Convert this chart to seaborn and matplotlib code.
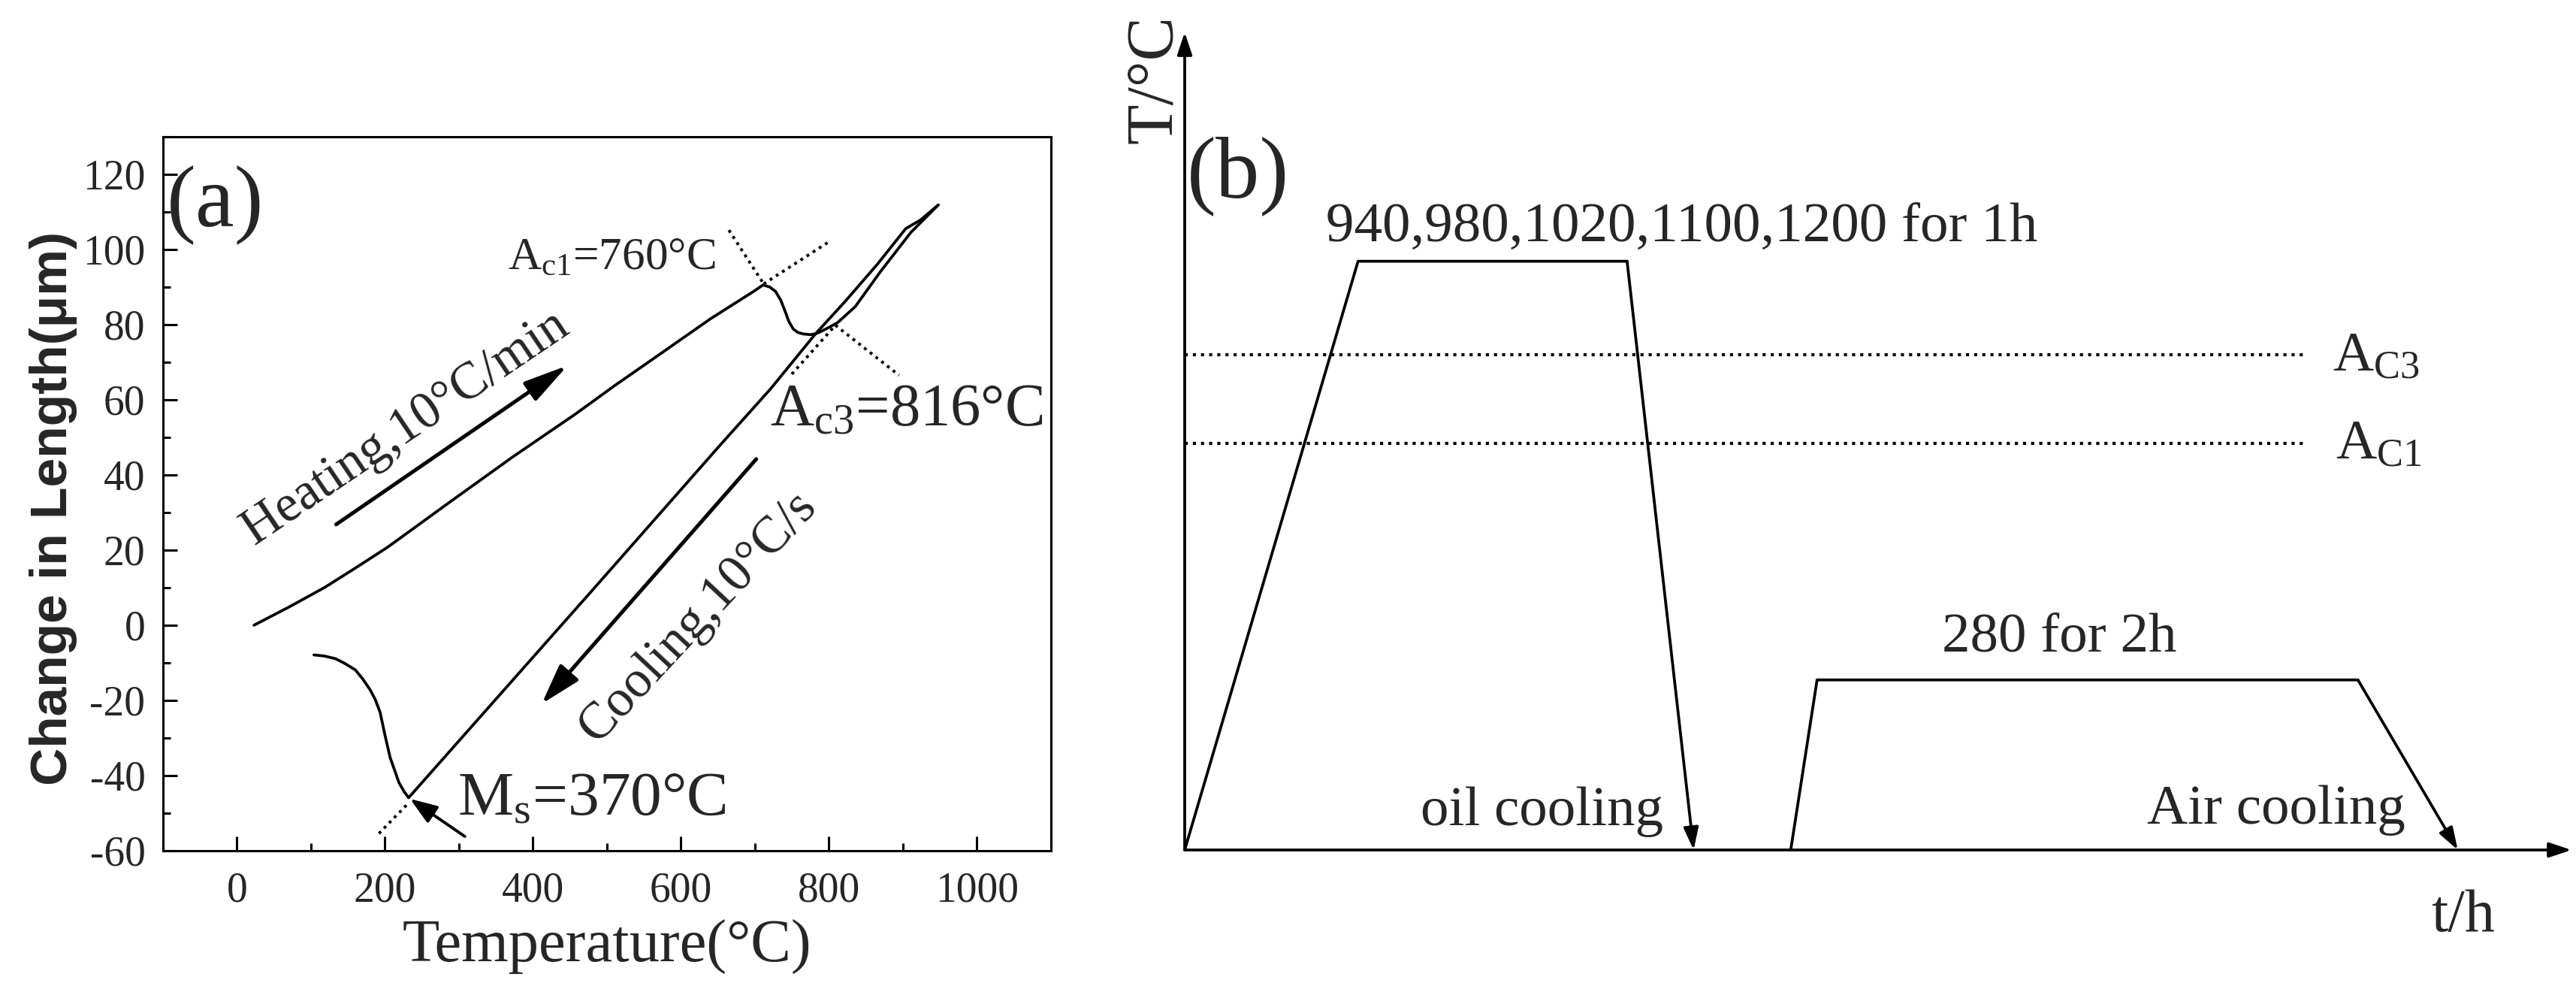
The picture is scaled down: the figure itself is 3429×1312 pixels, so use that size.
import matplotlib
matplotlib.use("Agg")
import matplotlib.pyplot as plt
import seaborn as sns
from matplotlib.ticker import MultipleLocator

# ---------------- data: panel (a) dilatometric curve ----------------
heat_temp = [23, 70, 119, 160, 204, 288, 373, 457, 511, 560, 600, 640, 680, 700, 711, 720, 728,
             735, 741, 746, 752, 758, 765, 775, 782, 789, 800, 812, 836, 870, 911, 948]
heat_len = [0, 4.8, 10.1, 15.2, 20.8, 32.8, 44.8, 56.1, 63.8, 70.5, 76, 81.5, 86.5, 89.0, 90.5, 90.0, 88.8,
            86.5, 83.5, 80.8, 78.8, 77.9, 77.5, 77.3, 77.5, 78.1, 79.2, 80.5, 84.8, 94.1, 104.5, 111.8]

cool_temp = [948, 924, 904, 866, 822, 782, 721, 654, 484, 232, 226, 219, 207, 200, 193.5, 187,
             180, 170, 160, 146, 133, 118, 104]
cool_len = [111.8, 107.8, 105.5, 96.1, 86.1, 77.5, 62.8, 48.1, 10.1, -45.9, -44.3, -41.9, -35.2,
            -29.2, -23.2, -19.8, -17.2, -14.3, -11.9, -10.2, -8.9, -8.2, -7.9]

# tangent (dotted) construction lines: [T0, T1], [L0, L1]
ac1_tan1_t, ac1_tan1_l = [665, 712], [105.1, 90.8]
ac1_tan2_t, ac1_tan2_l = [712, 801], [90.8, 102.1]
ac3_tan1_t, ac3_tan1_l = [750, 809], [66.8, 79.8]
ac3_tan2_t, ac3_tan2_l = [809, 895], [79.8, 66.5]
ms_tan_t, ms_tan_l = [229, 188], [-47.9, -56.2]

# arrows (tail -> tip)
heat_arrow = [(134, 26.8), (447, 69.1)]
cool_arrow = [(702, 44.2), (412, -20.9)]
ms_arrow = [(308, -56.2), (234, -46.2)]

x_ticks = [0, 200, 400, 600, 800, 1000]
y_ticks = [-60, -40, -20, 0, 20, 40, 60, 80, 100, 120]

# ---------------- data: panel (b) heat-treatment schedule (schematic units) ----------------
quench_t = [0, 12.5, 31.9, 36.7]
quench_T = [0, 72.0, 72.0, 0]
temper_t = [43.7, 45.6, 84.6, 91.8]
temper_T = [0, 20.8, 20.8, 0]
ac3_level, ac1_level, crit_end = 60.6, 49.7, 80.8

# ---------------- style ----------------
sns.set_theme(style="white")
plt.rcParams["font.family"] = ["Liberation Serif", "DejaVu Serif"]
plt.rcParams["mathtext.fontset"] = "custom"
plt.rcParams["mathtext.rm"] = "Liberation Serif"
plt.rcParams["mathtext.it"] = "Liberation Serif:italic"
plt.rcParams["mathtext.bf"] = "Liberation Serif:bold"
plt.rcParams["axes.unicode_minus"] = False

W, H = 3430, 1312
fig = plt.figure(figsize=(W / 100, H / 100), dpi=100)
fig.patch.set_facecolor("white")

# ================= panel (a) =================
axa = fig.add_axes([217 / W, 180 / H, 1181.6 / W, 950.3 / H])
axa.set_facecolor("white")
lw_curve = 2.7
sns.lineplot(x=heat_temp, y=heat_len, sort=False, estimator=None, ax=axa,
             color="black", lw=lw_curve)
sns.lineplot(x=cool_temp, y=cool_len, sort=False, estimator=None, ax=axa,
             color="black", lw=lw_curve)
dot = dict(color="black", lw=2.8, linestyle=(0, (1, 1.5)))
for tt, ll in [(ac1_tan1_t, ac1_tan1_l), (ac1_tan2_t, ac1_tan2_l),
               (ac3_tan1_t, ac3_tan1_l), (ac3_tan2_t, ac3_tan2_l), (ms_tan_t, ms_tan_l)]:
    axa.plot(tt, ll, **dot)

def arrow(ax, tail, tip, lw, hl, hw, ms=10):
    ax.annotate("", xy=tip, xytext=tail,
                arrowprops=dict(arrowstyle=f"-|>,head_length={hl},head_width={hw}",
                                color="black", lw=lw, shrinkA=0, shrinkB=0,
                                mutation_scale=ms))

arrow(axa, heat_arrow[0], heat_arrow[1], 3.6, 3.6, 0.9)
arrow(axa, cool_arrow[0], cool_arrow[1], 3.6, 3.3, 1.0)
arrow(axa, ms_arrow[0], ms_arrow[1], 2.8, 2.2, 0.8)

axa.set_xlim(-100, 1100)
axa.set_ylim(-60, 130)
axa.set_xticks(x_ticks)
axa.set_yticks(y_ticks)
axa.xaxis.set_minor_locator(MultipleLocator(100))
axa.yaxis.set_minor_locator(MultipleLocator(10))
axa.tick_params(axis="both", which="major", direction="in", length=13.7, width=2.2,
                labelsize=40, top=False, right=False, bottom=True, left=True, color="black")
axa.tick_params(axis="both", which="minor", direction="in", length=7.2, width=2.2,
                top=False, right=False, bottom=True, left=True, color="black")
axa.tick_params(axis="x", which="major", pad=20)
axa.tick_params(axis="y", which="major", pad=17)
for s in axa.spines.values():
    s.set_color("black")
    s.set_linewidth(2.2)

axa.set_xlabel("Temperature(°C)", fontsize=58, labelpad=8.5)
axa.set_ylabel("Change in Length(μm)", fontsize=50, fontfamily="Liberation Sans",
               fontweight="bold")
axa.yaxis.set_label_coords((103 - 217) / 1181.6, 0.479)

axa.text(-95, 106.3, "(a)", fontsize=84, ha="left", va="baseline")
axa.text(366, 94.8, r"$\mathrm{A_{c1}}$=760°C", fontsize=44, ha="left", va="baseline")
axa.text(721, 53.1, r"$\mathrm{A_{c3}}$=816°C", fontsize=58, ha="left", va="baseline")
axa.text(298, -50.5, r"$\mathrm{M_{s}}$=370°C", fontsize=60, ha="left", va="baseline")
axa.text(228, 52.5, "Heating,10°C/min", fontsize=50, rotation=34,
         rotation_mode="anchor", ha="center", va="center")
axa.text(623, 2.1, "Cooling,10°C/s", fontsize=50, rotation=47,
         rotation_mode="anchor", ha="center", va="center")

# ================= panel (b) =================
axb = fig.add_axes([1577 / W, 181 / H, 1846 / W, 1088 / H])
axb.set_facecolor("white")
axb.set_xlim(0, 100)
axb.set_ylim(0, 100)
for s in axb.spines.values():
    s.set_visible(False)
axb.set_xticks([])
axb.set_yticks([])

lw_b = 2.7
sns.lineplot(x=quench_t[:3], y=quench_T[:3], sort=False, estimator=None, ax=axb,
             color="black", lw=lw_b, clip_on=False)
sns.lineplot(x=temper_t[:3], y=temper_T[:3], sort=False, estimator=None, ax=axb,
             color="black", lw=lw_b, clip_on=False)
arrow(axb, (quench_t[2], quench_T[2]), (quench_t[3], quench_T[3]), lw_b, 1.8, 0.6)
arrow(axb, (temper_t[2], temper_T[2]), (temper_t[3], temper_T[3]), lw_b, 1.8, 0.6)
# axes arrows
arrow(axb, (0, 0), (0, 100), lw_b, 1.8, 0.6)
arrow(axb, (0, 0), (100, 0), lw_b, 1.8, 0.6)

dot_b = dict(color="black", lw=3.0, linestyle=(0, (1, 1.6)))
axb.plot([0, crit_end], [ac3_level, ac3_level], **dot_b)
axb.plot([0, crit_end], [ac1_level, ac1_level], **dot_b)

axb.text(0.16, 79.9, "(b)", fontsize=84, ha="left", va="baseline")
axb.text(-1.0, 94.3, "T/°C", fontsize=63, rotation=90, rotation_mode="anchor",
         ha="center", va="baseline")
axb.text(10.2, 74.5, "940,980,1020,1100,1200 for 1h", fontsize=54, ha="left", va="baseline")
axb.text(54.6, 24.3, "280 for 2h", fontsize=54, ha="left", va="baseline")
axb.text(17.0, 3.0, "oil cooling", fontsize=54, ha="left", va="baseline")
axb.text(69.4, 3.2, "Air cooling", fontsize=54, ha="left", va="baseline")
axb.text(89.9, -9.9, "t/h", fontsize=58, ha="left", va="baseline")
axb.text(82.8, 58.6, r"$\mathrm{A_{C3}}$", fontsize=54, ha="left", va="baseline")
axb.text(83.0, 47.9, r"$\mathrm{A_{C1}}$", fontsize=54, ha="left", va="baseline")

fig.savefig("out.png", dpi=100, facecolor="white")
